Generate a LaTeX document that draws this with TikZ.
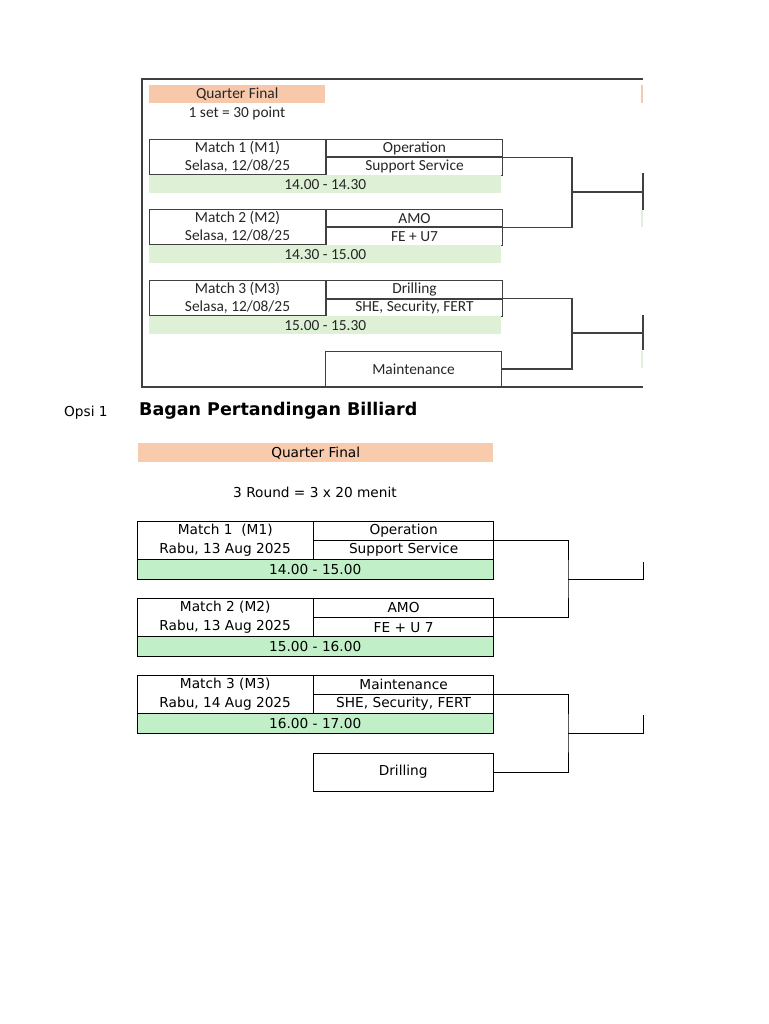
\documentclass[tikz,border=0pt]{standalone}
\usepackage{fontspec}
\setmainfont{DejaVu Sans}
\newfontfamily\calibrifont{Carlito}
\usetikzlibrary{positioning}

\definecolor{qforange}{RGB}{248,203,173}
\definecolor{timegreen}{RGB}{193,240,200}
\definecolor{oldorange}{RGB}{248,200,170}
\definecolor{oldgreen}{RGB}{222,241,214}
\definecolor{oldline}{RGB}{64,64,64}

\newcommand{\bodysize}{\fontsize{13.7}{19}\selectfont}
\newcommand{\oldsize}{\calibrifont\fontsize{15.4}{17.5}\selectfont}

\tikzstyle{namecell} = [
    rectangle,
    anchor=north west,
    minimum width=176pt,
    minimum height=38pt,
    inner sep=0pt,
    align=center,
    font=\bodysize,
    draw=black
]
\tikzstyle{teamcell} = [
    rectangle,
    anchor=north west,
    minimum width=180pt,
    minimum height=19pt,
    inner sep=0pt,
    font=\bodysize,
    draw=black
]
\tikzstyle{timecell} = [
    rectangle,
    anchor=north west,
    minimum width=356pt,
    minimum height=19.5pt,
    inner sep=0pt,
    font=\bodysize,
    fill=timegreen,
    draw=black
]
\tikzstyle{titlebar} = [
    rectangle,
    anchor=north west,
    minimum width=355pt,
    minimum height=19pt,
    inner sep=0pt,
    font=\bodysize,
    fill=qforange
]
\tikzstyle{oldname} = [
    rectangle,
    anchor=north west,
    minimum width=176pt,
    minimum height=35pt,
    inner sep=0pt,
    align=center,
    font=\oldsize,
    text=black!85,
    line width=1pt,
    draw=oldline
]
\tikzstyle{oldteam} = [
    rectangle,
    anchor=north west,
    minimum width=176pt,
    minimum height=17.5pt,
    inner sep=0pt,
    font=\oldsize,
    text=black!85,
    line width=1pt,
    draw=oldline
]
\tikzstyle{oldtime} = [
    rectangle,
    anchor=north west,
    minimum width=352pt,
    minimum height=18pt,
    inner sep=0pt,
    font=\oldsize,
    text=black!85,
    fill=oldgreen
]
\tikzstyle{oldbar} = [
    rectangle,
    anchor=north west,
    minimum width=176pt,
    minimum height=18pt,
    inner sep=0pt,
    font=\oldsize,
    text=black!85,
    fill=oldorange
]
\tikzstyle{bracket} = [line width=0.8pt, draw=black]
\tikzstyle{oldbracket} = [line width=1.2pt, draw=oldline]

\begin{document}
\begin{tikzpicture}[x=1pt, y=-1pt]

\useasboundingbox (0,0) rectangle (768,1024);

% old chart (screenshot)
\draw [oldbracket] (643,79) -- (142,79) -- (142,387) -- (643,387);

\node (oldqf) [oldbar] at (149,85) {Quarter Final};
\node (oldset) [font=\oldsize, text=black!85] at (237,113) {1 set = 30 point};
\fill [oldorange] (641,85) rectangle (643,103);
\fill [oldgreen] (641,210) rectangle (643,227);
\fill [oldgreen] (641,351) rectangle (643,368);

\node (o1name) [oldname] at (149,139) {Match 1 (M1)\\Selasa, 12/08/25};
\node (o1a) [oldteam] at (o1name.north east) {Operation};
\node (o1b) [oldteam] at (o1a.south west) {Support Service};
\node (o1time) [oldtime] at (o1name.south west) {14.00 - 14.30};

\node (o2name) [oldname] at (149,209) {Match 2 (M2)\\Selasa, 12/08/25};
\node (o2a) [oldteam] at (o2name.north east) {AMO};
\node (o2b) [oldteam] at (o2a.south west) {FE + U7};
\node (o2time) [oldtime] at (o2name.south west) {14.30 - 15.00};

\node (o3name) [oldname] at (149,280) {Match 3 (M3)\\Selasa, 12/08/25};
\node (o3a) [oldteam] at (o3name.north east) {Drilling};
\node (o3b) [oldteam] at (o3a.south west) {SHE, Security, FERT};
\node (o3time) [oldtime] at (o3name.south west) {15.00 - 15.30};

\node (o4) [oldname] at (325,351) {Maintenance};

\coordinate (oj1) at (572,192);
\coordinate (oe1) at (643,192);
\coordinate (oj2) at (572,333);
\coordinate (oe2) at (643,333);

\draw [oldbracket] (o1a.south east) -| (oj1) |- (o2a.south east);
\draw [oldbracket] (oj1) -- (oe1);
\draw [oldbracket] ([yshift=19pt]oe1) -- ([yshift=-18pt]oe1);

\draw [oldbracket] (o3a.south east) -| (oj2) |- (o4.east);
\draw [oldbracket] (oj2) -- (oe2);
\draw [oldbracket] ([yshift=18pt]oe2) -- ([yshift=-17pt]oe2);

% option 1
\node (opsi) [anchor=west, inner sep=0pt, font=\bodysize] at (64,413) {Opsi 1};
\node (title) [anchor=west, inner sep=0pt, font=\bfseries\fontsize{17.5}{21}\selectfont] at (139,411) {Bagan Pertandingan Billiard};

\node (qf) [titlebar] at (138,443) {Quarter Final};
\node (rounds) [font=\bodysize] at (315,492) {3 Round = 3 x 20 menit};

\node (m1name) [namecell] at (137,521) {Match 1\ \ (M1)\\Rabu, 13 Aug 2025};
\node (m1a) [teamcell] at (m1name.north east) {Operation};
\node (m1b) [teamcell] at (m1a.south west) {Support Service};
\node (m1time) [timecell] at (m1name.south west) {14.00 - 15.00};

\node (m2name) [namecell] at (137,598) {Match 2 (M2)\\Rabu, 13 Aug 2025};
\node (m2a) [teamcell] at (m2name.north east) {AMO};
\node (m2b) [teamcell] at (m2a.south west) {FE + U 7};
\node (m2time) [timecell] at (m2name.south west) {15.00 - 16.00};

\node (m3name) [namecell] at (137,675) {Match 3 (M3)\\Rabu, 14 Aug 2025};
\node (m3a) [teamcell] at (m3name.north east) {Maintenance};
\node (m3b) [teamcell] at (m3a.south west) {SHE, Security, FERT};
\node (m3time) [timecell] at (m3name.south west) {16.00 - 17.00};

\node (m4) [namecell, minimum width=180pt] at (313,753) {Drilling};

\coordinate (j1) at (568,579);
\coordinate (e1) at (643,579);
\coordinate (j2) at (568,733);
\coordinate (e2) at (643,733);

\draw [bracket] (m1a.south east) -| (j1) |- (m2a.south east);
\draw [bracket] (j1) -- (e1) -- ([yshift=17pt]e1);

\draw [bracket] (m3a.south east) -| (j2) |- (m4.east);
\draw [bracket] (j2) -- (e2) -- ([yshift=18pt]e2);

\end{tikzpicture}
\end{document}
